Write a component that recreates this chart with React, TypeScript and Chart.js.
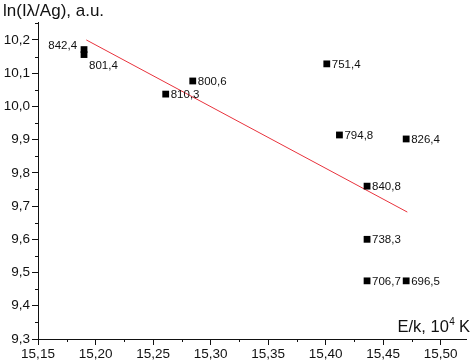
import React, { useEffect, useRef } from "react";
import { Chart, registerables } from "chart.js";

Chart.register(...registerables);

// ---- data ----
const pointX = [15.19, 15.19, 15.2845, 15.261, 15.401, 15.412, 15.47, 15.436, 15.436, 15.436, 15.47];
const pointY = [10.171, 10.156, 10.0765, 10.037, 10.128, 9.914, 9.902, 9.76, 9.6, 9.475, 9.475];
const pointLabels = ["842,4", "801,4", "800,6", "810,3", "751,4", "794,8", "826,4", "840,8", "738,3", "706,7", "696,5"];
const labelSide = ["left", "below", "right", "right", "right", "right", "right", "right", "right", "right", "right"];
const fitX = [15.192, 15.471];
const fitY = [10.2, 9.682];
const xTicks = [15.15, 15.2, 15.25, 15.3, 15.35, 15.4, 15.45, 15.5];
const yTicks = [9.3, 9.4, 9.5, 9.6, 9.7, 9.8, 9.9, 10.0, 10.1, 10.2];
const xMinorTicks = [15.175, 15.225, 15.275, 15.325, 15.375, 15.425, 15.475];
const yMinorTicks = [9.35, 9.45, 9.55, 9.65, 9.75, 9.85, 9.95, 10.05, 10.15, 10.25];
const yTitle = "ln(Iλ/Ag), a.u.";
const xTitleMain = "E/k, 10";
const xTitleSup = "4";
const xTitleEnd = " K";

const FONT = "'Liberation Sans', Arial, sans-serif";

const decorPlugin = {
  id: "decor",
  afterDraw(chart: any) {
    const ctx = chart.ctx;
    const xs = chart.scales.x;
    const ys = chart.scales.y;
    const area = chart.chartArea;
    ctx.save();
    // minor ticks
    ctx.strokeStyle = "#111";
    ctx.lineWidth = 1;
    ctx.beginPath();
    xMinorTicks.forEach((v) => {
      const px = Math.round(xs.getPixelForValue(v)) + 0.5;
      ctx.moveTo(px, area.bottom);
      ctx.lineTo(px, area.bottom + 3);
    });
    yMinorTicks.forEach((v) => {
      const py = Math.round(ys.getPixelForValue(v)) + 0.5;
      if (py < area.top - 1) return;
      ctx.moveTo(area.left, py);
      ctx.lineTo(area.left - 3, py);
    });
    ctx.stroke();

    // point labels
    ctx.fillStyle = "#111";
    ctx.font = `11.5px ${FONT}`;
    ctx.textBaseline = "middle";
    pointLabels.forEach((lab, i) => {
      const px = xs.getPixelForValue(pointX[i]);
      const py = ys.getPixelForValue(pointY[i]);
      const side = labelSide[i];
      if (side === "left") {
        ctx.textAlign = "right";
        ctx.fillText(lab, px - 7, py - 4);
      } else if (side === "below") {
        ctx.textAlign = "left";
        ctx.fillText(lab, px + 5, py + 11);
      } else {
        ctx.textAlign = "left";
        ctx.fillText(lab, px + 5, py + 1);
      }
    });

    // y title
    ctx.textAlign = "left";
    ctx.textBaseline = "alphabetic";
    ctx.font = `17px ${FONT}`;
    ctx.fillText(yTitle, 3, 16);

    // x title
    ctx.font = `16.5px ${FONT}`;
    const endW = ctx.measureText(xTitleEnd).width;
    ctx.font = `10px ${FONT}`;
    const supW = ctx.measureText(xTitleSup).width;
    ctx.font = `16.5px ${FONT}`;
    const mainW = ctx.measureText(xTitleMain).width;
    const right = 470;
    const base = 332;
    const startX = right - endW - supW - mainW;
    ctx.fillText(xTitleMain, startX, base);
    ctx.fillText(xTitleEnd, startX + mainW + supW, base);
    ctx.font = `10px ${FONT}`;
    ctx.fillText(xTitleSup, startX + mainW + 0.5, base - 7);
    ctx.restore();
  },
};

export default function App() {
  const ref = useRef<HTMLCanvasElement>(null);
  useEffect(() => {
    const canvas = ref.current;
    if (!canvas) return;
    const chart = new Chart(canvas, {
      type: "scatter",
      data: {
        datasets: [
          {
            data: pointX.map((x, i) => ({ x, y: pointY[i] })),
            pointStyle: "rect",
            pointRadius: 4.8,
            pointHoverRadius: 4.8,
            backgroundColor: "#000",
            borderColor: "#000",
            borderWidth: 0,
            order: 1,
          },
          {
            type: "line",
            data: fitX.map((x, i) => ({ x, y: fitY[i] })),
            borderColor: "#e8323c",
            borderWidth: 1,
            pointRadius: 0,
            showLine: true,
            fill: false,
            order: 2,
          } as any,
        ],
      },
      options: {
        animation: false,
        responsive: false,
        layout: { padding: { top: 22, right: 8, left: 0, bottom: 0 } },
        plugins: { legend: { display: false }, tooltip: { enabled: false } },
        scales: {
          x: {
            type: "linear",
            min: 15.15,
            max: 15.522,
            afterBuildTicks: (s: any) => {
              s.ticks = xTicks.map((v) => ({ value: v }));
            },
            afterFit: (s: any) => {
              s.height = 25;
            },
            grid: {
              display: true,
              drawOnChartArea: false,
              drawTicks: true,
              tickLength: 6,
              tickColor: "#111",
              color: "#111",
            },
            border: { display: true, color: "#111", width: 1 },
            ticks: {
              padding: 1,
              color: "#111",
              font: { family: FONT, size: 13.5 },
              maxRotation: 0,
              autoSkip: false,
              callback: (v: any) => Number(v).toFixed(2).replace(".", ","),
            },
          },
          y: {
            type: "linear",
            min: 9.3,
            max: 10.254,
            afterBuildTicks: (s: any) => {
              s.ticks = yTicks.map((v) => ({ value: v }));
            },
            afterFit: (s: any) => {
              s.width = 38;
            },
            grid: {
              display: true,
              drawOnChartArea: false,
              drawTicks: true,
              tickLength: 6,
              tickColor: "#111",
              color: "#111",
            },
            border: { display: true, color: "#111", width: 1 },
            ticks: {
              padding: 2,
              color: "#111",
              font: { family: FONT, size: 13.5 },
              autoSkip: false,
              callback: (v: any) => Number(v).toFixed(1).replace(".", ","),
            },
          },
        },
      },
      plugins: [decorPlugin],
    });
    return () => chart.destroy();
  }, []);
  return (
    <div style={{ position: "absolute", left: 0, top: 0, width: 474, height: 364, background: "#fff" }}>
      <canvas ref={ref} width={474} height={364} style={{ display: "block" }} />
    </div>
  );
}
